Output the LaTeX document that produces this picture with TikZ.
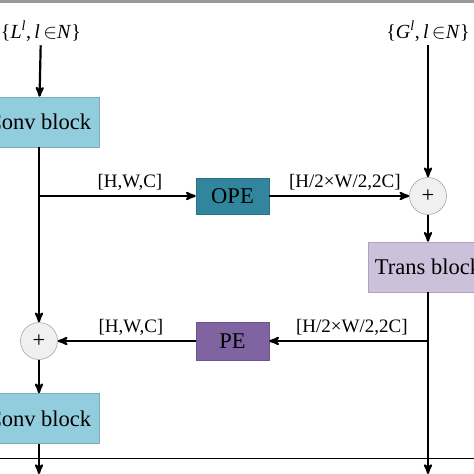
\documentclass[tikz,border=0pt]{standalone}
\usepackage{fontspec}
\setmainfont{Liberation Serif}
\usepackage{tikz}
\usetikzlibrary{arrows}

\definecolor{convblue}{RGB}{146,205,221}
\definecolor{opeteal}{RGB}{49,133,156}
\definecolor{translav}{RGB}{204,193,218}
\definecolor{pepurple}{RGB}{128,100,162}
\definecolor{addgray}{RGB}{240,240,240}

\begin{document}
\begin{tikzpicture}[->,>=stealth',x=1pt,y=1pt,line width=2.2pt,
  font=\fontsize{22.5}{24}\selectfont,
  conv node/.style={rectangle,fill=convblue,draw=convblue!85!black,line width=0.6pt,
    minimum width=120pt,minimum height=50pt,inner sep=0pt},
  trans node/.style={conv node,fill=translav,draw=translav!85!black},
  ope node/.style={rectangle,fill=opeteal,draw=opeteal!85!black,line width=0.6pt,
    minimum width=73pt,minimum height=36pt,inner sep=0pt},
  pe node/.style={ope node,fill=pepurple,draw=pepurple!85!black,minimum height=38pt},
  add node/.style={circle,fill=addgray,draw=gray!70,line width=0.6pt,
    minimum size=37pt,inner sep=0pt},
  in node/.style={inner sep=3pt,font=\fontsize{20}{22}\selectfont},
  dim label/.style={above,inner sep=4pt,font=\fontsize{19}{21}\selectfont}]
  \useasboundingbox (0,0) rectangle (474,-474);
  \fill[-,gray!80] (0,0) rectangle (474,-2.5);
  \draw[-,line width=0.8pt] (0,-458) -- (474,-458);

  % left branch
  \node[in node] (lin) at (41,-31) {\{\textit{L}\textsuperscript{\textit{l}},\,\textit{l}\,$\in$\textit{N}\}};
  \node[conv node] (conv1) at (39,-122) {Conv block};
  \coordinate (split1) at (39,-196);
  \node[add node] (add1) at (39,-341) {+};
  \node[conv node] (conv2) at (39,-418.5) {Conv block};
  \coordinate (out1) at (39,-474);

  % right branch
  \node[in node] (gin) at (428,-31) {\{\textit{G}\textsuperscript{\textit{l}},\,\textit{l}\,$\in$\textit{N}\}};
  \node[add node] (add2) at (428,-196) {+};
  \node[trans node] (trans) at (428,-267) {Trans block};
  \coordinate (split2) at (428,-341);
  \coordinate (out2) at (428,-474);

  % embeddings
  \node[ope node] (ope) at (232.5,-196) {OPE};
  \node[pe node] (pe) at (232.5,-341) {PE};

  \draw (lin) -- (conv1);
  \draw[-] (conv1) -- (split1);
  \draw (split1) -- (add1);
  \draw (add1) -- (conv2);
  \draw (conv2) -- (out1);

  \draw (gin) -- (add2);
  \draw (add2) -- (trans);
  \draw[-] (trans) -- (split2);
  \draw (split2) -- (out2);

  \draw (split1) -- node[dim label,pos=0.58] {[H,W,C]} (ope);
  \draw (ope) -- node[dim label,pos=0.54] {[H/2×W/2,2C]} (add2);
  \draw (split2) -- node[dim label,pos=0.48] {[H/2×W/2,2C]} (pe);
  \draw (pe) -- node[dim label,pos=0.47] {[H,W,C]} (add1);
\end{tikzpicture}
\end{document}
